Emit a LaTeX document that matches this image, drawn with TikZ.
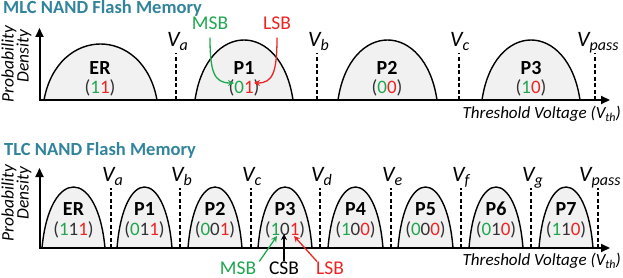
\documentclass[tikz,border=0pt]{standalone}
\usepackage{fontspec}
\setmainfont{Carlito}
\usetikzlibrary{arrows.meta,calc}
\definecolor{tealT}{RGB}{49,132,155}
\definecolor{grn}{RGB}{32,166,80}
\definecolor{rdd}{RGB}{237,36,36}
\definecolor{distfill}{RGB}{240,241,240}
\definecolor{codegray}{RGB}{50,50,50}
\newcommand\gdig[1]{\textcolor{grn}{#1}}
\newcommand\rdig[1]{\textcolor{rdd}{#1}}
\newcommand\vlab[1]{\fontsize{22}{22}\selectfont\itshape V\raisebox{-4pt}{\fontsize{16}{16}\selectfont #1}}
\newcommand\distcurve[4]{%
  \pgfmathsetmacro\dcA{#1+0.12*(#2-#1)}%
  \pgfmathsetmacro\dcB{#2-0.12*(#2-#1)}%
  \pgfmathsetmacro\dcY{#3-4/3*(#3-#4)}%
  \filldraw[distr] (#1,#3) .. controls (\dcA,\dcY) and (\dcB,\dcY) .. (#2,#3);}
\tikzset{
  title/.style={font=\fontsize{18.5}{18.5}\selectfont\bfseries, text=tealT, anchor=base west, inner sep=0},
  axisline/.style={line width=2pt, {Triangle[length=9pt,width=8pt]}-{Triangle[length=9pt,width=8pt]}},
  vline/.style={line width=1.2pt, dash pattern=on 4pt off 2.5pt},
  distr/.style={fill=distfill, draw=black, line width=1.4pt},
  lbl/.style={font=\fontsize{20}{20}\selectfont\bfseries, inner sep=0},
  code/.style={font=\fontsize{19}{19}\selectfont, text=codegray, inner sep=0},
  axlbl/.style={font=\fontsize{17.5}{17.5}\selectfont\itshape, inner sep=0},
  thlbl/.style={font=\fontsize{17}{17}\selectfont\itshape, inner sep=0, anchor=base east},
  vlbl/.style={anchor=base west, inner sep=0},
  bitarrow/.style={line width=1.3pt, -{Stealth[length=6pt,width=6pt]}},
  bitlbl/.style={font=\fontsize{19.5}{19.5}\selectfont, inner sep=0}
}
\begin{document}
\begin{tikzpicture}[x=1pt,y=-1pt]
\useasboundingbox (0,0) rectangle (623,278);
% ================= MLC =================
\node[title] (t1) at (3,14) {MLC NAND Flash Memory};
\coordinate (ytop1) at (39.5,28);
\coordinate (orig1) at (39.5,100);
\coordinate (xend1) at (610,100);
% distributions
\distcurve{44}{157}{100}{44}
\distcurve{195}{293}{100}{40}
\distcurve{338}{437}{100}{40}
\distcurve{482}{580}{100}{40}
% read reference voltages
\foreach \xx/\nm in {176/va1,317/vb1,459/vc1,595/vp1}{
  \coordinate (\nm-b) at (\xx,100);
  \coordinate (\nm-t) at (\xx,53);
  \draw[vline] (\nm-b) -- (\nm-t);
}
\node[vlbl] (lva1) at (167,47) {\vlab{a}};
\node[vlbl] (lvb1) at (308,47) {\vlab{b}};
\node[vlbl] (lvc1) at (450,47) {\vlab{c}};
\node[vlbl] (lvp1) at (577,47) {\vlab{pass}};
\draw[axisline] (ytop1) -- (orig1) -- (xend1);
% state labels
\node[lbl] (er1) at (100,68) {ER};
\node[code] (cer1) at (100,88) {(\gdig{1}\rdig{1})};
\node[lbl] (p11) at (244,68) {P1};
\node[code] (cp11) at (244,88) {(\gdig{0}\rdig{1})};
\node[lbl] (p21) at (387,68) {P2};
\node[code] (cp21) at (387,88) {(\gdig{0}\rdig{0})};
\node[lbl] (p31) at (531,68) {P3};
\node[code] (cp31) at (531,88) {(\gdig{1}\rdig{0})};
% axis labels
\node[axlbl, rotate=90] (prob1) at (9,64) {Probability};
\node[axlbl, rotate=90] (dens1) at (24,56) {Density};
\node[thlbl] (th1) at (621,118) {Threshold Voltage (V\raisebox{-3pt}{\fontsize{12}{12}\selectfont th})};
% MSB / LSB
\node[bitlbl, text=grn] (msb1) at (210,23) {MSB};
\node[bitlbl, text=rdd] (lsb1) at (277,23) {LSB};
\coordinate (msb1e) at (234,83);
\coordinate (lsb1e) at (254,83);
\draw[bitarrow, grn] ($(msb1.south)+(0,8)$) .. controls (210,72) and (214,83) .. (msb1e);
\draw[bitarrow, rdd] ($(lsb1.south)+(0,8)$) .. controls (277,72) and (273,83) .. (lsb1e);
% ================= TLC =================
\node[title] (t2) at (4,155.5) {TLC NAND Flash Memory};
\coordinate (ytop2) at (39.5,168);
\coordinate (orig2) at (39.5,248);
\coordinate (xend2) at (610,248);
\distcurve{42}{105}{248}{187}
\distcurve{117}{172}{248}{187}
\distcurve{188}{242}{248}{187}
\distcurve{258}{312}{248}{187}
\distcurve{328}{383}{248}{187}
\distcurve{398}{453}{248}{187}
\distcurve{469}{523}{248}{187}
\distcurve{539}{593}{248}{187}
\foreach \xx/\nm in {111/va2,180/vb2,251/vc2,320/vd2,391/ve2,461/vf2,531/vg2,598/vp2}{
  \coordinate (\nm-b) at (\xx,248);
  \coordinate (\nm-t) at (\xx,188);
  \draw[vline] (\nm-b) -- (\nm-t);
}
\node[vlbl] (lva2) at (102,181) {\vlab{a}};
\node[vlbl] (lvb2) at (171,181) {\vlab{b}};
\node[vlbl] (lvc2) at (242,181) {\vlab{c}};
\node[vlbl] (lvd2) at (311,181) {\vlab{d}};
\node[vlbl] (lve2) at (382,181) {\vlab{e}};
\node[vlbl] (lvf2) at (452,181) {\vlab{f}};
\node[vlbl] (lvg2) at (522,181) {\vlab{g}};
\node[vlbl] (lvp2) at (579,181) {\vlab{pass}};
\draw[axisline] (ytop2) -- (orig2) -- (xend2);
\node[lbl] (er2) at (73.5,209) {ER};
\node[code] (cer2) at (73.5,230) {(\gdig{1}1\rdig{1})};
\node[lbl] (p12) at (144.5,209) {P1};
\node[code] (cp12) at (144.5,230) {(\gdig{0}1\rdig{1})};
\node[lbl] (p22) at (215,209) {P2};
\node[code] (cp22) at (215,230) {(\gdig{0}0\rdig{1})};
\node[lbl] (p32) at (285,209) {P3};
\node[code] (cp32) at (285,230) {(\gdig{1}0\rdig{1})};
\node[lbl] (p42) at (355.5,209) {P4};
\node[code] (cp42) at (355.5,230) {(\gdig{1}0\rdig{0})};
\node[lbl] (p52) at (425.5,209) {P5};
\node[code] (cp52) at (425.5,230) {(\gdig{0}0\rdig{0})};
\node[lbl] (p62) at (496,209) {P6};
\node[code] (cp62) at (496,230) {(\gdig{0}1\rdig{0})};
\node[lbl] (p72) at (566,209) {P7};
\node[code] (cp72) at (566,230) {(\gdig{1}1\rdig{0})};
\node[axlbl, rotate=90] (prob2) at (9,203) {Probability};
\node[axlbl, rotate=90] (dens2) at (24,193) {Density};
\node[thlbl] (th2) at (621,265) {Threshold Voltage (V\raisebox{-3pt}{\fontsize{12}{12}\selectfont th})};
\node[bitlbl, text=grn] (msb2) at (238,268) {MSB};
\node[bitlbl] (csb2) at (284,268) {CSB};
\node[bitlbl, text=rdd] (lsb2) at (330,268) {LSB};
\coordinate (msb2e) at (277,236);
\coordinate (csb2e) at (284,234);
\coordinate (lsb2e) at (294,236);
\draw[bitarrow, grn] ($(msb2.north east)+(3,0)$) -- (msb2e);
\draw[bitarrow] (csb2.north) -- (csb2e);
\draw[bitarrow, rdd] ($(lsb2.north west)+(1,0)$) -- (lsb2e);
\end{tikzpicture}
\end{document}
